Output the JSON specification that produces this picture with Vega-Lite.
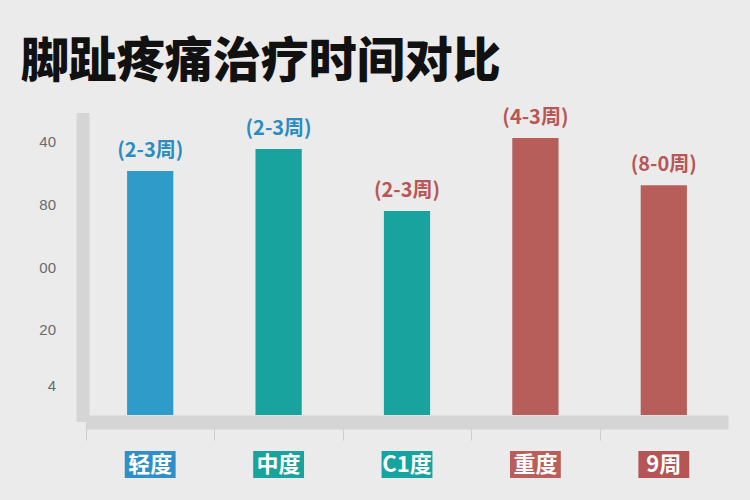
{
  "$schema": "https://vega.github.io/schema/vega-lite/v6.json",
  "background": "#ebebeb",
  "padding": {"left": 20, "top": 38, "right": 22, "bottom": 23},
  "title": {
    "text": "脚趾疼痛治疗时间对比",
    "anchor": "start",
    "font": "Noto Sans CJK SC",
    "fontSize": 48,
    "fontWeight": 900,
    "color": "#111111",
    "offset": 21,
    "dx": -18
  },
  "data": {
    "values": [
      {"cat": "轻度", "v": 90.5, "dur": "(2-3周)"},
      {"cat": "中度", "v": 97.5, "dur": "(2-3周)"},
      {"cat": "C1度", "v": 77.8, "dur": "(2-3周)"},
      {"cat": "重度", "v": 101, "dur": "(4-3周)"},
      {"cat": "9周", "v": 86, "dur": "(8-0周)"}
    ]
  },
  "spacing": 10,
  "vconcat": [
    {
      "width": 642,
      "height": 296,
      "encoding": {
        "x": {
          "field": "cat",
          "type": "nominal",
          "sort": null,
          "scale": {"paddingInner": 0.64, "paddingOuter": 0.32},
          "axis": {
            "labels": false,
            "title": null,
            "grid": false,
            "domainColor": "#d5d5d5",
            "domainWidth": 14,
            "offset": 7,
            "tickColor": "#cdcdcd",
            "tickSize": 18,
            "tickWidth": 1,
            "bandPosition": 0,
            "tickOffset": -41.1
          }
        }
      },
      "layer": [
        {
          "mark": {"type": "bar"},
          "encoding": {
            "y": {
              "field": "v",
              "type": "quantitative",
              "scale": {"domain": [13, 107], "zero": false, "nice": false},
              "axis": {
                "values": [100, 80, 60, 40, 22.5],
                "labelExpr": "datum.value==100?'40':datum.value==80?'80':datum.value==60?'00':datum.value==40?'20':'4'",
                "title": null,
                "grid": false,
                "ticks": false,
                "domainColor": "#d5d5d5",
                "domainWidth": 13,
                "domainCap": "square",
                "offset": 3.5,
                "labelPadding": 27,
                "labelFont": "Liberation Sans",
                "labelFontSize": 15,
                "labelColor": "#6a6a6a"
              }
            },
            "y2": {"datum": 13},
            "color": {
              "field": "cat",
              "type": "nominal",
              "scale": {
                "domain": ["轻度", "中度", "C1度", "重度", "9周"],
                "range": ["#2f9bc8", "#18a39f", "#18a39f", "#b75e5a", "#b75e5a"]
              },
              "legend": null
            }
          }
        },
        {
          "mark": {"type": "text", "dy": -20, "fontSize": 20, "fontWeight": "bold", "font": "Noto Sans CJK SC"},
          "encoding": {
            "y": {"field": "v", "type": "quantitative"},
            "text": {"field": "dur"},
            "color": {
              "condition": {"test": "indexof(['轻度','中度'], datum.cat) >= 0", "value": "#2b8cc0"},
              "value": "#b75656"
            }
          }
        }
      ]
    },
    {
      "width": 642,
      "height": 27,
      "encoding": {
        "x": {
          "field": "cat",
          "type": "nominal",
          "sort": null,
          "scale": {"paddingInner": 0.64, "paddingOuter": 0.32},
          "axis": null
        }
      },
      "layer": [
        {
          "mark": {"type": "bar", "width": {"band": 1.1}},
          "encoding": {
            "color": {
              "field": "cat",
              "type": "nominal",
              "scale": {
                "domain": ["轻度", "中度", "C1度", "重度", "9周"],
                "range": ["#2f8fc6", "#1aa39c", "#17a39f", "#b95e5a", "#b55555"]
              },
              "legend": null
            }
          }
        },
        {
          "mark": {"type": "text", "color": "#ffffff", "fontSize": 22, "fontWeight": "bold", "font": "Noto Sans CJK SC"},
          "encoding": {"text": {"field": "cat"}}
        }
      ]
    }
  ],
  "resolve": {"scale": {"color": "independent"}},
  "config": {"view": {"stroke": null}}
}
